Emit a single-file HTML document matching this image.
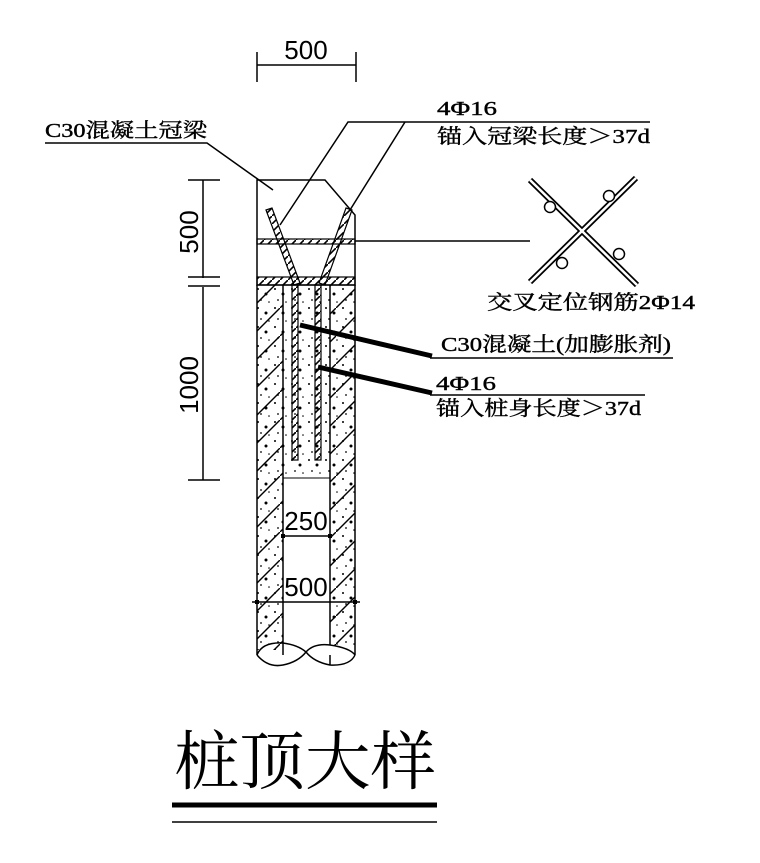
<!DOCTYPE html>
<html><head><meta charset="utf-8"><style>
body{margin:0;background:#fff}
svg{display:block}
text{font-family:"Liberation Serif","Noto Serif CJK SC","Noto Sans CJK SC",serif;fill:#000}
.s{font-family:"Liberation Sans","DejaVu Sans",sans-serif}
.l{font-size:20px;stroke:#000;stroke-width:0.4}
</style></head><body>
<svg width="760" height="863" viewBox="0 0 760 863" xmlns="http://www.w3.org/2000/svg">
<defs>
<pattern id="h" width="28" height="28" patternUnits="userSpaceOnUse">
<path d="M-2,30 L30,-2" stroke="#000" stroke-width="1.4"/>
</pattern>
<pattern id="dots" width="17" height="19" patternUnits="userSpaceOnUse">
<circle cx="3" cy="4" r="1" fill="#000"/><circle cx="11" cy="9" r="1.5" fill="#000"/><circle cx="6" cy="15" r="0.9" fill="#000"/><circle cx="14" cy="17" r="0.8" fill="#000"/>
</pattern>
<pattern id="hb" width="8" height="8" patternUnits="userSpaceOnUse">
<path d="M0,8 L8,0" stroke="#000" stroke-width="1.6"/>
</pattern>
</defs>
<g stroke="#000" fill="none" stroke-width="1.5">
<line x1="257" y1="65" x2="356" y2="65"/>
<line x1="257" y1="52" x2="257" y2="82"/><line x1="356" y1="52" x2="356" y2="82"/>
<line x1="203" y1="180" x2="203" y2="278"/>
<line x1="203" y1="287" x2="203" y2="480"/>
<line x1="188" y1="180" x2="220" y2="180"/>
<line x1="188" y1="277" x2="220" y2="277"/>
<line x1="188" y1="286" x2="220" y2="286"/>
<line x1="188" y1="480" x2="220" y2="480"/>
<path d="M257,180 L325,180 L355,215 L355,285 L257,285 Z"/>
</g>
<rect x="257" y="277" width="98" height="8" fill="url(#hb)" stroke="#000" stroke-width="1.2"/>
<rect x="257" y="285" width="26" height="365" fill="url(#h)"/>
<rect x="257" y="285" width="26" height="365" fill="url(#dots)"/>
<rect x="330" y="285" width="25" height="365" fill="url(#h)"/>
<rect x="330" y="285" width="25" height="365" fill="url(#dots)"/>
<rect x="283" y="285" width="47" height="193" fill="url(#dots)"/>
<g stroke="#000" fill="none" stroke-width="1.5">
<line x1="257" y1="285" x2="257" y2="655"/>
<line x1="355" y1="285" x2="355" y2="655"/>
<line x1="283" y1="285" x2="283" y2="665"/>
<line x1="330" y1="285" x2="330" y2="665"/>
<line x1="283" y1="478" x2="330" y2="478" stroke-width="1"/>
<path d="M257,655 Q268,668 283,665 Q298,662 306,652 Q314,643 330,645 Q350,648 355,655" fill="#fff"/>
<path d="M257,655 Q262,642 283,643 Q298,645 306,652 Q314,662 330,665 Q350,666 355,655"/>
<line x1="283" y1="536" x2="330" y2="536"/>
<line x1="252" y1="602" x2="360" y2="602"/>
</g>
<rect x="281" y="534" width="4" height="4"/><rect x="328" y="534" width="4" height="4"/>
<rect x="255" y="600" width="4" height="4"/><rect x="353" y="600" width="4" height="4"/>
<g stroke="#000" stroke-width="1.2" fill="url(#hb)">
<rect x="292" y="285" width="6" height="175"/>
<rect x="315" y="285" width="6" height="175"/>
<polygon points="266,210 272,208 300,283 294,285"/>
<polygon points="346,208 352,210 325,285 319,283"/>
<rect x="257" y="239" width="98" height="5"/>
</g>
<g stroke="#000" fill="none" stroke-width="1.5">
<line x1="355" y1="241" x2="530" y2="241"/>
<polyline points="45,143 207,143 273,190"/>
<polyline points="280,225 348,122 650,122"/>
<polyline points="350,210 405,122"/>
<line x1="430" y1="358" x2="673" y2="358"/>
<line x1="430" y1="395" x2="645" y2="395"/>
<line x1="300" y1="325" x2="432" y2="356" stroke-width="5"/>
<line x1="318" y1="367" x2="432" y2="393" stroke-width="5"/>
<line x1="530" y1="180" x2="637" y2="285" stroke-width="6"/>
<line x1="636" y1="178" x2="530" y2="282" stroke-width="6"/>
<line x1="530" y1="180" x2="637" y2="285" stroke="#fff" stroke-width="2.5"/>
<line x1="636" y1="178" x2="530" y2="282" stroke="#fff" stroke-width="2.5"/>
<circle cx="550" cy="207" r="5.5" fill="#fff"/>
<circle cx="609" cy="196" r="5.5" fill="#fff"/>
<circle cx="562" cy="263" r="5.5" fill="#fff"/>
<circle cx="619" cy="254" r="5.5" fill="#fff"/>
<line x1="172" y1="805" x2="437" y2="805" stroke-width="5"/>
<line x1="172" y1="822" x2="437" y2="822" stroke-width="1.5"/>
</g>
<text class="s" x="306" y="59" font-size="26" text-anchor="middle">500</text>
<text class="s" x="198" y="232" font-size="26" text-anchor="middle" transform="rotate(-90 198 232)">500</text>
<text class="s" x="198" y="385" font-size="26" text-anchor="middle" transform="rotate(-90 198 385)">1000</text>
<text class="s" x="306" y="530" font-size="26" text-anchor="middle">250</text>
<text class="s" x="306" y="596" font-size="26" text-anchor="middle">500</text>
<text class="l" x="45" y="137" textLength="162" lengthAdjust="spacingAndGlyphs">C30混凝土冠梁</text>
<text class="l" x="437" y="115" textLength="60" lengthAdjust="spacingAndGlyphs">4Φ16</text>
<text class="l" x="437" y="143" textLength="213" lengthAdjust="spacingAndGlyphs">锚入冠梁长度＞37d</text>
<text class="l" x="487" y="309" textLength="208" lengthAdjust="spacingAndGlyphs">交叉定位钢筋2Φ14</text>
<text class="l" x="441" y="351" textLength="230" lengthAdjust="spacingAndGlyphs">C30混凝土(加膨胀剂)</text>
<text class="l" x="436" y="390" textLength="60" lengthAdjust="spacingAndGlyphs">4Φ16</text>
<text class="l" x="436" y="415" textLength="205" lengthAdjust="spacingAndGlyphs">锚入桩身长度＞37d</text>
<text x="174" y="784" font-size="64" textLength="262" lengthAdjust="spacingAndGlyphs">桩顶大样</text>
</svg>
</body></html>
